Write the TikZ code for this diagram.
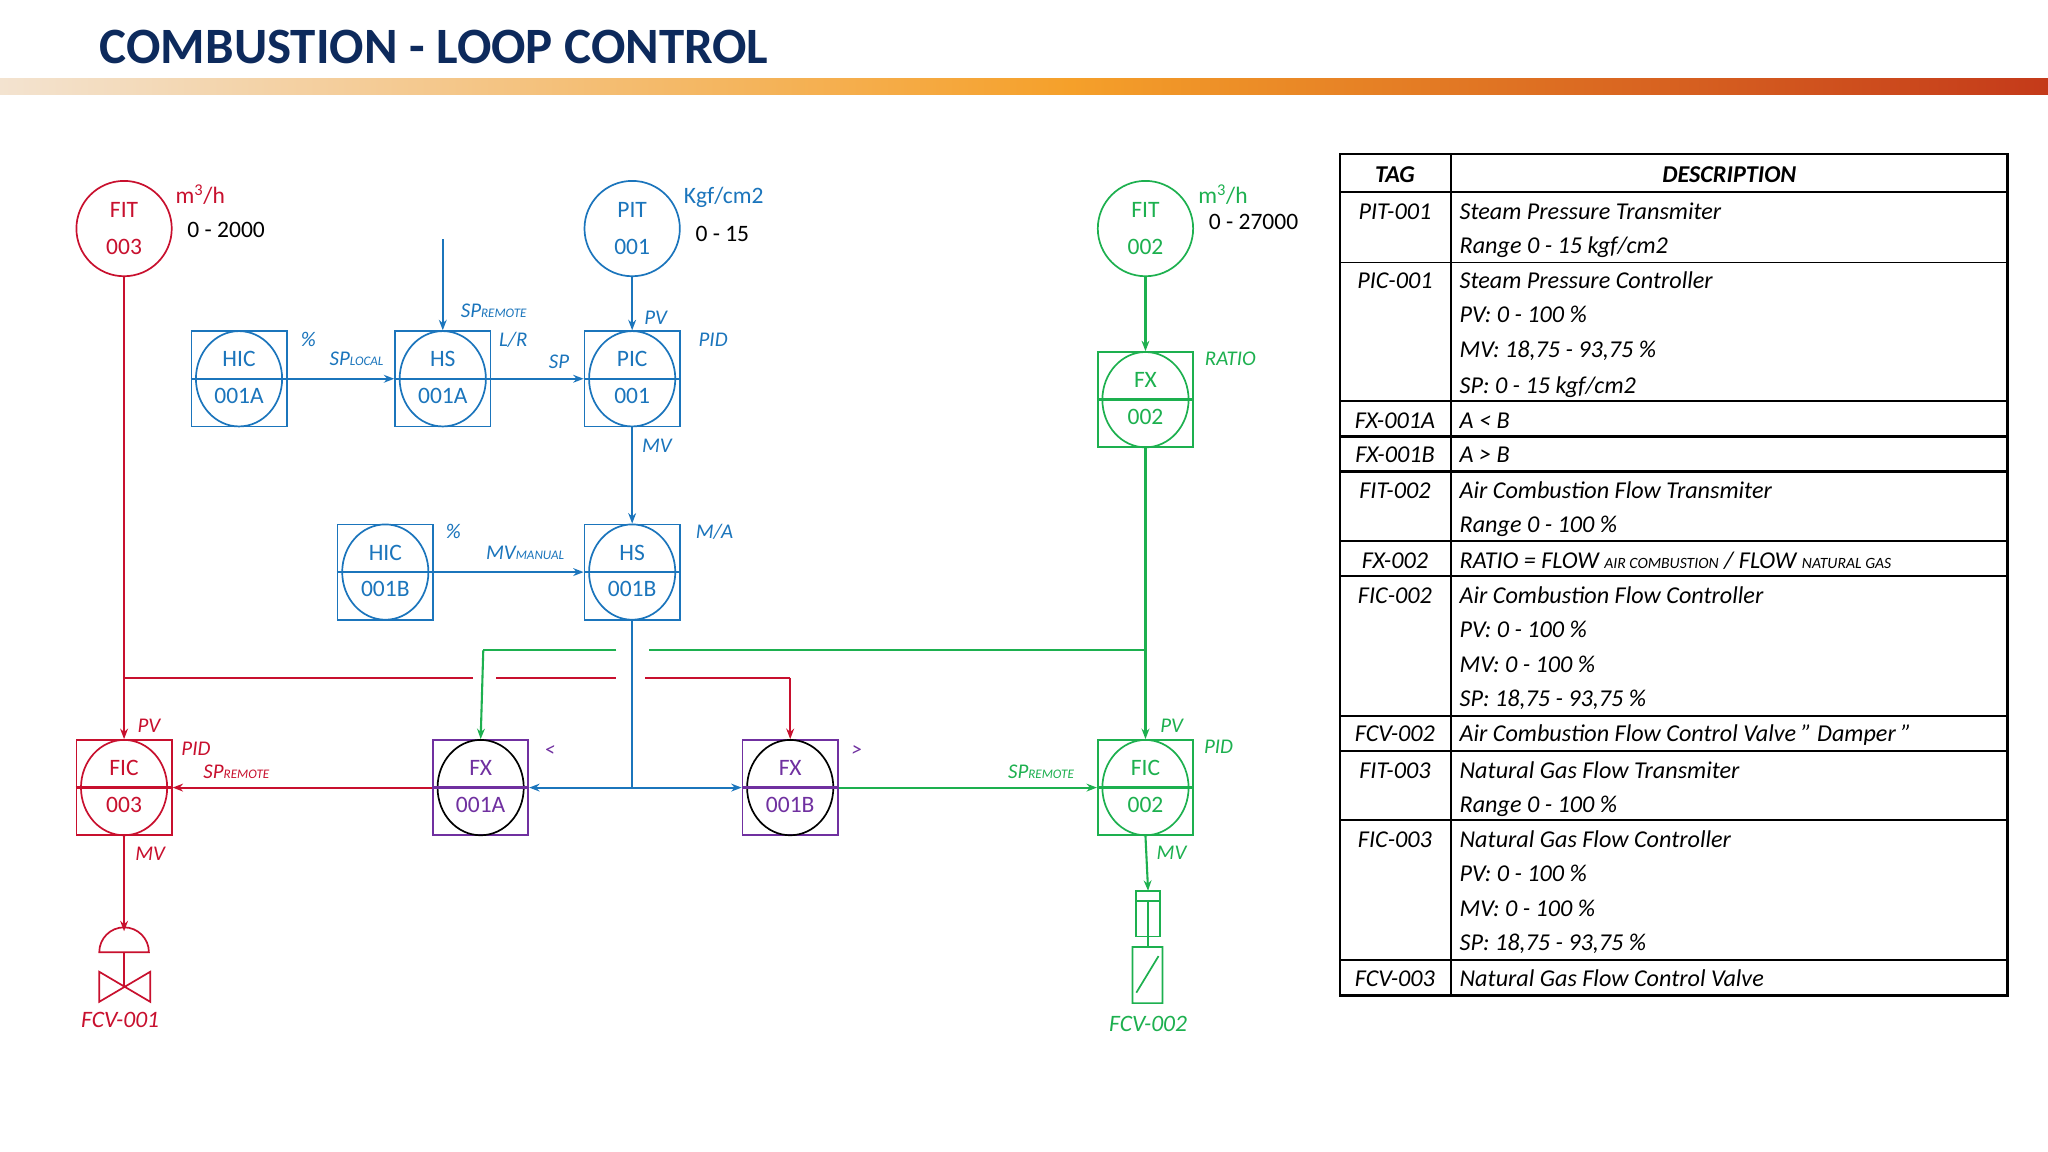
\documentclass[tikz,border=0pt]{standalone}
\usepackage{fontspec}
\setmainfont{Carlito}
\usetikzlibrary{arrows.meta}
\definecolor{cr}{HTML}{C8102E}
\definecolor{cb}{HTML}{1B75BC}
\definecolor{cg}{HTML}{1DB04F}
\definecolor{cp}{HTML}{7030A0}
\definecolor{navy}{HTML}{0D2A5C}
\definecolor{g1}{HTML}{F3E3D0}
\definecolor{g2}{HTML}{F5A02A}
\definecolor{g3}{HTML}{C43A1A}
\newcommand\instf{\fontsize{18}{18}\selectfont}
\newcommand\lab{\fontsize{16}{16}\selectfont\itshape}
\newcommand\sml{\fontsize{10}{10}\selectfont}
\newcommand\myinst[8]{%
 \node[draw=#4,line width=1.3pt,minimum size=73pt,inner sep=0pt] (#1) at (#2,#3) {};
 \draw[#5,line width=1.3pt] (#1.center) ellipse [x radius=33pt,y radius=36.5pt];
 \draw[#4,line width=1.8pt] (#1.west) -- (#1.east);
 \node[text=#6,font=\instf] at (#2,#3-15) {#7};
 \node[text=#6,font=\instf] at (#2,#3+13) {#8};}
\newcommand\mycirc[6]{%
 \node[draw=#4,circle,line width=1.3pt,minimum size=73pt,inner sep=0pt] (#1) at (#2,#3) {};
 \node[text=#4,font=\instf] at (#2,#3-14) {#5};
 \node[text=#4,font=\instf] at (#2,#3+14) {#6};}
\tikzset{ln/.style={line width=1.6pt},arr/.style={ln,-{Stealth[length=8pt,width=6pt]}},
 tt/.style={font=\fontsize{18.5}{18}\selectfont\itshape,anchor=base}}
\begin{document}
\begin{tikzpicture}[x=1pt,y=-1pt]
\useasboundingbox (0,0) rectangle (1568,882);
\fill[white] (0,0) rectangle (1568,882);
\node[anchor=west,text=navy,font=\fontsize{39}{39}\selectfont\bfseries] (title) at (73,36) {COMBUSTION - LOOP CONTROL};
\shade[left color=g1, right color=g2] (0,60) rectangle (820,72);
\shade[left color=g2, right color=g3] (819.5,60) rectangle (1568,72);
% instruments
\mycirc{fit3}{95}{175}{cr}{FIT}{003}
\mycirc{pit1}{484}{175}{cb}{PIT}{001}
\mycirc{fit2}{877}{175}{cg}{FIT}{002}
\myinst{hic1a}{183}{290}{cb}{cb}{cb}{HIC}{001A}
\myinst{hs1a}{339}{290}{cb}{cb}{cb}{HS}{001A}
\myinst{pic1}{484}{290}{cb}{cb}{cb}{PIC}{001}
\myinst{hic1b}{295}{438}{cb}{cb}{cb}{HIC}{001B}
\myinst{hs1b}{484}{438}{cb}{cb}{cb}{HS}{001B}
\myinst{fx2}{877}{306}{cg}{cg}{cg}{FX}{002}
\myinst{fic3}{95}{603}{cr}{cr}{cr}{FIC}{003}
\myinst{fx1a}{368}{603}{cp}{black}{cp}{FX}{001A}
\myinst{fx1b}{605}{603}{cp}{black}{cp}{FX}{001B}
\myinst{fic2}{877}{603}{cg}{cg}{cg}{FIC}{002}
% blue lines
\coordinate (spr) at (339,183);
\draw[arr,cb] (spr) -- (hs1a.north);
\draw[arr,cb] (pit1.south) -- (pic1.north);
\draw[arr,cb] (hic1a.east) -- (hs1a.west);
\draw[arr,cb] (hs1a.east) -- (pic1.west);
\draw[arr,cb] (pic1.south) -- (hs1b.north);
\draw[arr,cb] (hic1b.east) -- (hs1b.west);
\coordinate (bj) at (484,603);
\draw[ln,cb] (hs1b.south) -- (bj);
\draw[arr,cb] (bj) -- (fx1a.east);
\draw[arr,cb] (bj) -- (fx1b.west);
% red lines
\draw[arr,cr] (fit3.south) -- (fic3.north);
\draw[ln,cr] (95,519) -- (362,519) (380,519) -- (472,519) (494,519) -- (605,519);
\draw[arr,cr] (605,519) -- (fx1b.north);
\draw[arr,cr] (fx1a.west) -- (fic3.east);
\coordinate (act) at (95,713);
\draw[arr,cr] (fic3.south) -- (act);
\draw[cr,line width=1.3pt] (76,729) arc[start angle=180,end angle=360,radius=19] -- cycle;
\draw[cr,line width=1.3pt] (95,729) -- (95,755);
\draw[cr,line width=1.3pt] (76,744) -- (76,767) -- (115,744) -- (115,767) -- cycle;
% green lines
\draw[arr,cg] (fit2.south) -- (fx2.north);
\draw[arr,cg] (fx2.south) -- (fic2.north);
\draw[ln,cg] (877,498) -- (497,498) (472,498) -- (370,498);
\draw[arr,cg] (370,498) -- (fx1a.north);
\draw[arr,cg] (fx1b.east) -- (fic2.west);
\coordinate (act2) at (879,682);
\draw[arr,cg] (fic2.south) -- (act2);
\draw[cg,line width=1.3pt] (870,682) rectangle (888,717) (879,690) -- (879,717) (870,690) -- (888,690);
\draw[cg,line width=1.3pt] (879,717) -- (879,725) (867,725) rectangle (890,768) (870,760) -- (887,732);
% labels
\node[text=cr,font=\fontsize{18}{18}\selectfont,anchor=west] at (131,149) {m\textsuperscript{3}/h};
\node[font=\fontsize{18}{18}\selectfont,anchor=west] at (140,176) {0 - 2000};
\node[text=cb,font=\fontsize{18}{18}\selectfont,anchor=west] at (520,151) {Kgf/cm2};
\node[font=\fontsize{18}{18}\selectfont,anchor=west] at (529,179) {0 - 15};
\node[text=cg,font=\fontsize{18}{18}\selectfont,anchor=west] at (914,149) {m\textsuperscript{3}/h};
\node[font=\fontsize{18}{18}\selectfont,anchor=west] at (922,170) {0 - 27000};
\begin{scope}[text=cb]
\node[font=\lab] at (236,260) {\%};
\node[font=\lab] at (273,275) {SP{\sml LOCAL}};
\node[font=\lab] at (378,238) {SP{\sml REMOTE}};
\node[font=\lab] at (393,260) {L/R};
\node[font=\lab] at (428,277) {SP};
\node[font=\lab] at (502,243) {PV};
\node[font=\lab] at (546,260) {PID};
\node[font=\lab] at (503,341) {MV};
\node[font=\lab] at (347,407) {\%};
\node[font=\lab] at (402,423) {MV{\sml MANUAL}};
\node[font=\lab] at (547,407) {M/A};
\end{scope}
\begin{scope}[text=cr]
\node[font=\lab] at (114,556) {PV};
\node[font=\lab] at (150,573) {PID};
\node[font=\lab] at (181,591) {SP{\sml REMOTE}};
\node[font=\lab] at (115,654) {MV};
\node[font=\fontsize{18}{18}\selectfont\itshape] at (92,781) {FCV-001};
\end{scope}
\begin{scope}[text=cg]
\node[font=\lab] at (942,275) {RATIO};
\node[font=\lab] at (897,556) {PV};
\node[font=\lab] at (933,572) {PID};
\node[font=\lab] at (797,591) {SP{\sml REMOTE}};
\node[font=\lab] at (897,653) {MV};
\node[font=\fontsize{18}{18}\selectfont\itshape] at (879,784) {FCV-002};
\end{scope}
\node[text=cp,font=\lab] at (421,575) {<};
\node[text=cp,font=\lab] at (656,575) {>};
% table
\draw[line width=2pt] (1026,118) rectangle (1537,762);
\draw[line width=1.2pt] (1111,118) -- (1111,762);
\foreach \y in {201,307,414,548,628,735} \draw[line width=1.2pt] (1026,\y) -- (1537,\y);
\foreach \y in {147,334,361,441,575} \draw[line width=2pt] (1026,\y) -- (1537,\y);
\node[tt,font=\fontsize{18.5}{18}\selectfont\bfseries\itshape] at (1068,140) {TAG};
\node[tt,font=\fontsize{18.5}{18}\selectfont\bfseries\itshape] at (1324,140) {DESCRIPTION};
\foreach \t/\y in {PIT-001/168,PIC-001/221,FX-001A/328,FX-001B/354,FIT-002/382,FX-002/435,FIC-002/462,FCV-002/568,FIT-003/596,FIC-003/649,FCV-003/755}
  \node[tt] at (1068,\y) {\t};
\foreach \t/\y in {{Steam Pressure Transmiter}/168,{Range 0 - 15 kgf/cm2}/194,{Steam Pressure Controller}/221,{PV: 0 - 100 \%}/247,{MV: 18,75 - 93,75 \%}/274,{SP: 0 - 15 kgf/cm2}/301,{A < B}/328,{A > B}/354,{Air Combustion Flow Transmiter}/382,{Range 0 - 100 \%}/408,{Air Combustion Flow Controller}/462,{PV: 0 - 100 \%}/488,{MV: 0 - 100 \%}/515,{SP: 18,75 - 93,75 \%}/541,{Air Combustion Flow Control Valve " Damper "}/568,{Natural Gas Flow Transmiter}/596,{Range 0 - 100 \%}/622,{Natural Gas Flow Controller}/649,{PV: 0 - 100 \%}/675,{MV: 0 - 100 \%}/702,{SP: 18,75 - 93,75 \%}/728,{Natural Gas Flow Control Valve}/755}
  \node[tt,anchor=base west] at (1114,\y) {\t};
\node[tt,anchor=base west] at (1114,435) {RATIO = FLOW {\fontsize{12}{12}\selectfont AIR COMBUSTION} / FLOW {\fontsize{12}{12}\selectfont NATURAL GAS}};
\end{tikzpicture}
\end{document}
